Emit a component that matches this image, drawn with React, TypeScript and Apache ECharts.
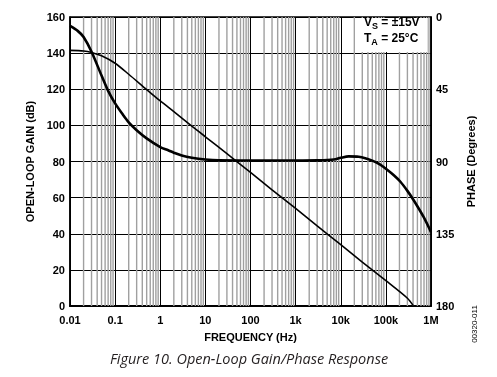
import React, { useEffect, useRef } from "react";
import * as echarts from "echarts";

// Frequency axis tick labels (decades 0.01 Hz .. 1 MHz)
const tickLabels = ["0.01", "0.1", "1", "10", "100", "1k", "10k", "100k", "1M"];
const decades = [0.01, 0.1, 1, 10, 100, 1000, 10000, 100000];
const minorMultipliers = [2, 3, 4, 5, 6, 7, 8, 9];

// Open-loop gain (dB) vs frequency (Hz)
const gainFreq = [0.01, 0.02, 0.03, 0.05, 0.1, 0.2, 0.5, 1, 2, 5, 10, 30, 100, 300, 1000, 3000, 10000, 30000, 100000, 300000, 410000];
const gainDb = [141.5, 141.2, 140.4, 138.5, 134.4, 128.3, 119.8, 113.5, 107.6, 99.6, 93.7, 84.3, 74, 64.3, 54, 44.3, 34, 24.3, 14, 4.3, 0];

// Phase (degrees) vs frequency (Hz)
const phaseFreq = [0.01, 0.015, 0.02, 0.03, 0.05, 0.07, 0.1, 0.15, 0.2, 0.3, 0.5, 1, 1.5, 2, 3, 5, 10, 20, 100, 1000, 3000, 7000, 10000, 15000, 25000, 38000, 53000, 75000, 105000, 150000, 210000, 300000, 410000, 680000, 1000000];
const phaseDeg = [5.6, 8.8, 12.5, 21.6, 36.5, 46, 53.8, 61, 65.6, 70.5, 75.6, 81, 83, 84.5, 86.3, 87.7, 88.8, 89.3, 89.4, 89.4, 89.3, 88.8, 87.7, 86.8, 87, 88.3, 89.8, 92, 95, 98.6, 102.6, 108.3, 114, 124.4, 134];

const FONT = "'Liberation Sans', Arial, sans-serif";

export default function App() {
  const ref = useRef<HTMLDivElement>(null);
  useEffect(() => {
    if (!ref.current) return;
    const chart = echarts.init(ref.current, undefined, { renderer: "svg" });
    // minor vertical gridlines as broken line segments (bottom to top of gain axis)
    const minorData: any[] = [];
    decades.forEach((d) =>
      minorMultipliers.forEach((m) => {
        minorData.push([d * m, 0], [d * m, 160], [d * m, "-"]);
      })
    );
    const axisLabel = { color: "#000", fontFamily: FONT, fontWeight: "bold", fontSize: 11 };
    chart.setOption({
      animation: false,
      grid: { left: 70, right: 66, top: 17, bottom: 71, show: true, borderColor: "#000", borderWidth: 1.5 },
      xAxis: {
        type: "log",
        logBase: 10,
        min: 0.01,
        max: 1000000,
        interval: 1,
        name: "FREQUENCY (Hz)",
        nameLocation: "middle",
        nameGap: 25,
        nameTextStyle: { ...axisLabel },
        axisLine: { show: true, lineStyle: { color: "#000", width: 2 } },
        axisTick: { show: false },
        axisLabel: {
          ...axisLabel,
          margin: 8,
          formatter: (v: number) => tickLabels[Math.round(Math.log10(v)) + 2] ?? "",
        },
        splitLine: { show: true, lineStyle: { color: "#000", width: 1 } },
        minorTick: { show: false },
        minorSplitLine: { show: false },
      },
      yAxis: [
        {
          type: "value",
          min: 0,
          max: 160,
          interval: 20,
          name: "OPEN-LOOP GAIN (dB)",
          nameLocation: "middle",
          nameRotate: 90,
          nameGap: 32,
          nameTextStyle: { ...axisLabel },
          axisLine: { show: true, lineStyle: { color: "#000", width: 1.5 } },
          axisTick: { show: false },
          axisLabel: { ...axisLabel, margin: 5 },
          splitLine: { show: true, lineStyle: { color: "#000", width: 1 } },
        },
        {
          type: "value",
          min: 0,
          max: 180,
          interval: 45,
          inverse: true,
          position: "right",
          name: "PHASE (Degrees)",
          nameLocation: "middle",
          nameRotate: 90,
          nameGap: 34,
          nameTextStyle: { ...axisLabel },
          axisLine: { show: true, lineStyle: { color: "#000", width: 1.5 } },
          axisTick: { show: false },
          axisLabel: { ...axisLabel, margin: 5 },
          splitLine: { show: false },
        },
      ],
      series: [
        {
          name: "MinorGrid",
          type: "line",
          xAxisIndex: 0,
          yAxisIndex: 0,
          data: minorData,
          showSymbol: false,
          connectNulls: false,
          silent: true,
          z: 1,
          lineStyle: { color: "#a0a0a0", width: 1.4 },
        },
        {
          name: "Gain",
          type: "line",
          xAxisIndex: 0,
          yAxisIndex: 0,
          data: gainFreq.map((f, i) => [f, gainDb[i]]),
          showSymbol: false,
          smooth: 0.25,
          z: 3,
          lineStyle: { color: "#000", width: 1.6 },
        },
        {
          name: "Phase",
          type: "line",
          xAxisIndex: 0,
          yAxisIndex: 1,
          data: phaseFreq.map((f, i) => [f, phaseDeg[i]]),
          showSymbol: false,
          smooth: 0.3,
          z: 3,
          lineStyle: { color: "#000", width: 2.6 },
        },
      ],
      graphic: [
        {
          type: "rect",
          z: 10,
          shape: { x: 361, y: 18, width: 66, height: 34 },
          style: { fill: "#fff" },
        },
        {
          type: "text",
          z: 11,
          x: 364,
          y: 14,
          style: {
            text: "{a|V}{s|S}{a| = ±15V}\n{a|T}{s|A}{a| = 25°C}",
            rich: {
              a: { fontFamily: FONT, fontWeight: "bold", fontSize: 12, lineHeight: 16, fill: "#000" },
              s: { fontFamily: FONT, fontWeight: "bold", fontSize: 9, lineHeight: 16, verticalAlign: "bottom", fill: "#000" },
            },
          },
        },
        {
          type: "text",
          z: 11,
          x: 249,
          y: 358,
          style: {
            text: "Figure 10. Open-Loop Gain/Phase Response",
            font: "italic 14.5px 'Open Sans', 'Noto Sans', sans-serif",
            fill: "#231f20",
            align: "center",
            verticalAlign: "middle",
          },
        },
        {
          type: "text",
          z: 11,
          x: 474,
          y: 324,
          rotation: Math.PI / 2,
          style: {
            text: "00320-011",
            font: "8px 'Liberation Sans', Arial, sans-serif",
            fill: "#000",
            align: "center",
            verticalAlign: "middle",
          },
        },
      ],
    });
    return () => chart.dispose();
  }, []);
  return <div ref={ref} style={{ position: "fixed", left: 0, top: 0, width: 497, height: 377 }} />;
}
